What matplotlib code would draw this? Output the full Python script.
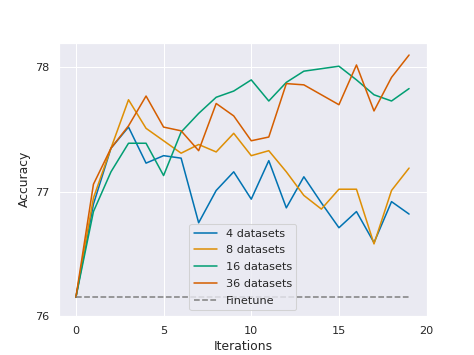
import numpy as np
import matplotlib
matplotlib.use("Agg")
import matplotlib.pyplot as plt
import seaborn as sns

iterations = np.arange(20)
acc_4 = [76.15, 76.90, 77.35, 77.52, 77.23, 77.29, 77.27, 76.75, 77.01, 77.16,
         76.94, 77.25, 76.87, 77.12, 76.91, 76.71, 76.84, 76.59, 76.92, 76.82]
acc_8 = [76.15, 76.95, 77.35, 77.74, 77.51, 77.41, 77.31, 77.38, 77.32, 77.47,
         77.29, 77.33, 77.16, 76.97, 76.86, 77.02, 77.02, 76.58, 77.01, 77.19]
acc_16 = [76.15, 76.84, 77.16, 77.39, 77.39, 77.13, 77.48, 77.63, 77.76, 77.81,
          77.90, 77.73, 77.88, 77.97, 77.99, 78.01, 77.90, 77.78, 77.73, 77.83]
acc_36 = [76.15, 77.06, 77.35, 77.53, 77.77, 77.52, 77.49, 77.33, 77.71, 77.61,
          77.41, 77.44, 77.87, 77.86, 77.78, 77.70, 78.02, 77.65, 77.92, 78.10]
finetune = 76.15

sns.set_theme(style="darkgrid", palette="colorblind")

fig, ax = plt.subplots(figsize=(474 / 74, 355 / 74), dpi=74)
ax.plot(iterations, acc_4, label="4 datasets")
ax.plot(iterations, acc_8, label="8 datasets")
ax.plot(iterations, acc_16, label="16 datasets")
ax.plot(iterations, acc_36, label="36 datasets")
ax.plot(iterations, [finetune] * len(iterations), "--", color="gray", label="Finetune")

ax.set_ylim(76.01, 78.2)
ax.set_yticks([76, 77, 78])
ax.set_xticks([0, 5, 10, 15, 20])
ax.set_xlabel("Iterations")
ax.set_ylabel("Accuracy")
ax.legend(loc="lower center", labelspacing=0.6)
plt.savefig("out.png", dpi=74)
